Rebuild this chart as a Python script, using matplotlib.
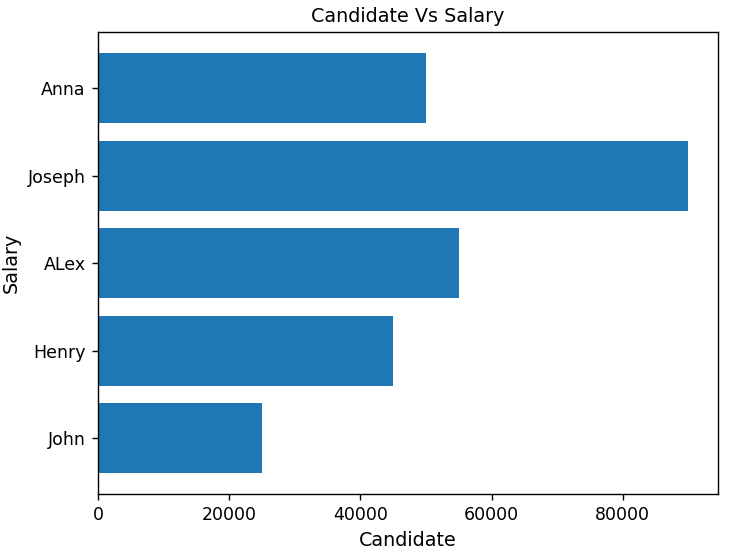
import matplotlib
matplotlib.use("Agg")
import matplotlib.pyplot as plt

candidates = ["John", "Henry", "ALex", "Joseph", "Anna"]
salaries = [25000, 45000, 55000, 90000, 50000]

fig = plt.figure(figsize=(741/125, 557/125), dpi=125)
ax = fig.add_axes([98/741, 1-494/557, 620/741, 462/557])
ax.barh(candidates, salaries, color="#1f77b4")
ax.set_title("Candidate Vs Salary", fontsize=11)
ax.set_xlabel("Candidate", fontsize=11)
ax.set_ylabel("Salary", fontsize=11)
fig.savefig("out.png", dpi=125)
